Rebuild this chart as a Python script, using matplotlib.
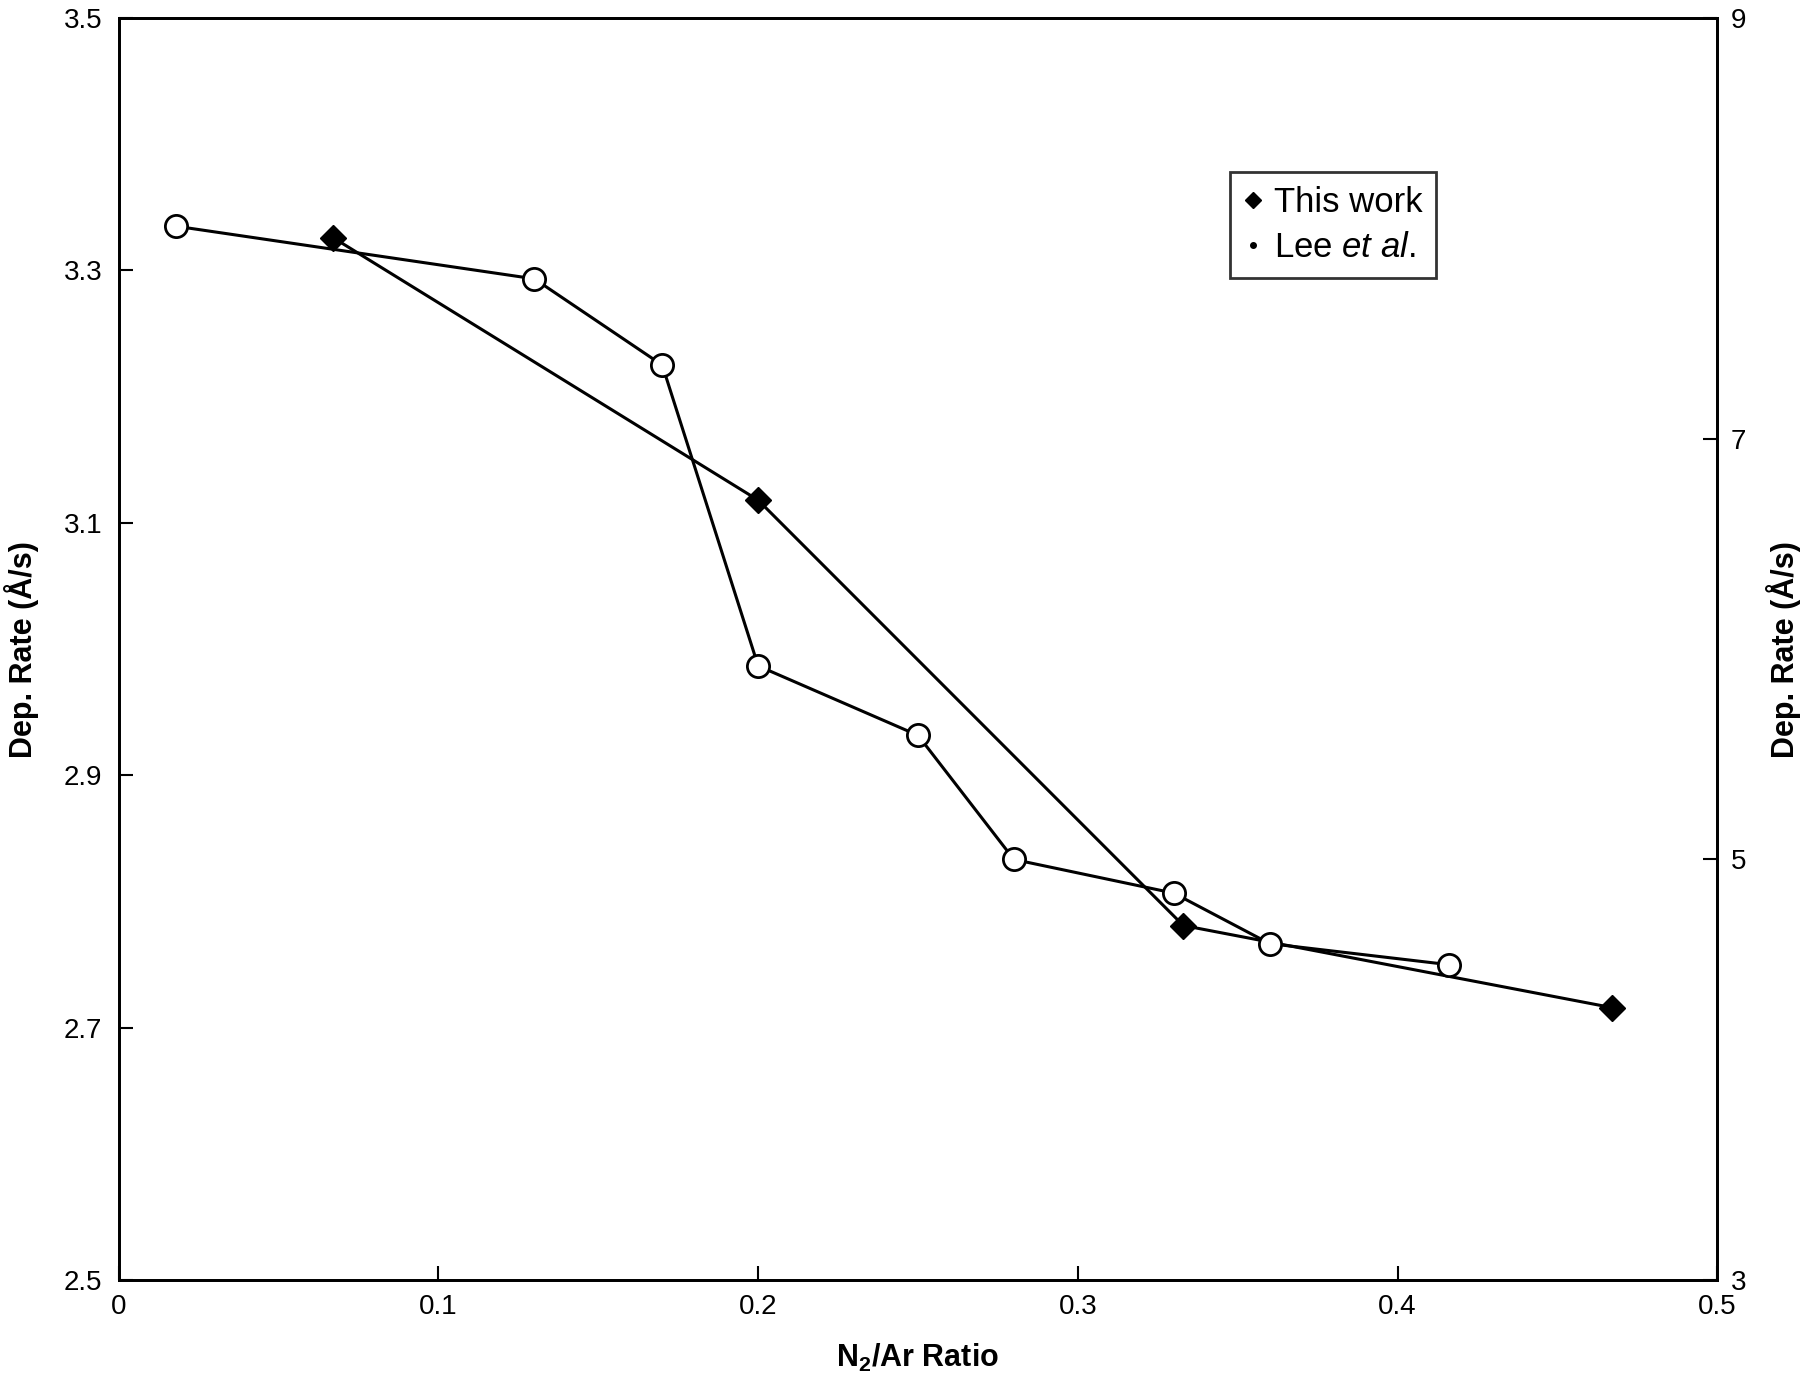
import matplotlib
matplotlib.use('Agg')
import matplotlib.pyplot as plt

plt.rcParams['font.family'] = ['Liberation Sans', 'DejaVu Sans']
plt.rcParams['mathtext.fontset'] = 'custom'
plt.rcParams['mathtext.rm'] = 'Liberation Sans'
plt.rcParams['mathtext.it'] = 'Liberation Sans:italic'
plt.rcParams['mathtext.bf'] = 'Liberation Sans:bold'

# This work (left axis)
this_x = [0.067, 0.200, 0.333, 0.467]
this_y = [3.326, 3.118, 2.781, 2.716]

# Lee et al. (right axis)
lee_x = [0.018, 0.130, 0.170, 0.200, 0.250, 0.280, 0.330, 0.360, 0.416]
lee_y = [8.01, 7.76, 7.35, 5.92, 5.59, 5.00, 4.84, 4.60, 4.50]

left_ticks = [2.5, 2.7, 2.9, 3.1, 3.3, 3.5]
right_ticks = [3, 5, 7, 9]
x_ticks = [0, 0.1, 0.2, 0.3, 0.4, 0.5]

fig = plt.figure(figsize=(18, 13.84), dpi=100)
ax = fig.add_axes([0.066, 0.075, 0.888, 0.912])
ax2 = ax.twinx()

l1, = ax.plot(this_x, this_y, color='black', lw=2.2, marker='D', markersize=13,
              markerfacecolor='black', markeredgecolor='black')
l2, = ax2.plot(lee_x, lee_y, color='black', lw=2.2, marker='o', markersize=16,
               markerfacecolor='white', markeredgecolor='black', markeredgewidth=2)

ax.set_xlim(0, 0.5)
ax.set_ylim(2.5, 3.5)
ax2.set_ylim(3, 9)
ax.set_xticks(x_ticks)
ax.set_xticklabels(['0', '0.1', '0.2', '0.3', '0.4', '0.5'])
ax.set_yticks(left_ticks)
ax.set_yticklabels(['2.5', '2.7', '2.9', '3.1', '3.3', '3.5'])
ax2.set_yticks(right_ticks)

for a in (ax, ax2):
    a.tick_params(direction='in', length=10, width=1.5, labelsize=20)
    for s in a.spines.values():
        s.set_linewidth(2)
ax.tick_params(axis='x', pad=10)
ax.tick_params(axis='y', pad=12)
ax2.tick_params(axis='y', pad=10)

ax.set_xlabel(r'N$_\mathbf{2}$/Ar Ratio', fontsize=22, fontweight='bold', labelpad=16)
ax.set_ylabel('Dep. Rate (Å/s)', fontsize=22, fontweight='bold', labelpad=18)
ax2.set_ylabel('Dep. Rate (Å/s)', fontsize=22, fontweight='bold', labelpad=14)

# legend with small markers
h1 = plt.Line2D([], [], marker='D', color='black', ls='none', markersize=8)
h2 = plt.Line2D([], [], marker='o', color='black', ls='none', markersize=4)
leg = ax.legend([h1, h2], ['This work', r'Lee $et\ al.$'], loc='upper left',
                bbox_to_anchor=(0.6955, 0.878), fontsize=25, frameon=True, fancybox=False,
                edgecolor='black', handlelength=0.5, handletextpad=0.35,
                borderpad=0.4, labelspacing=0.35, borderaxespad=0)
leg.get_frame().set_linewidth(2)

fig.savefig('out.png', dpi=100)
